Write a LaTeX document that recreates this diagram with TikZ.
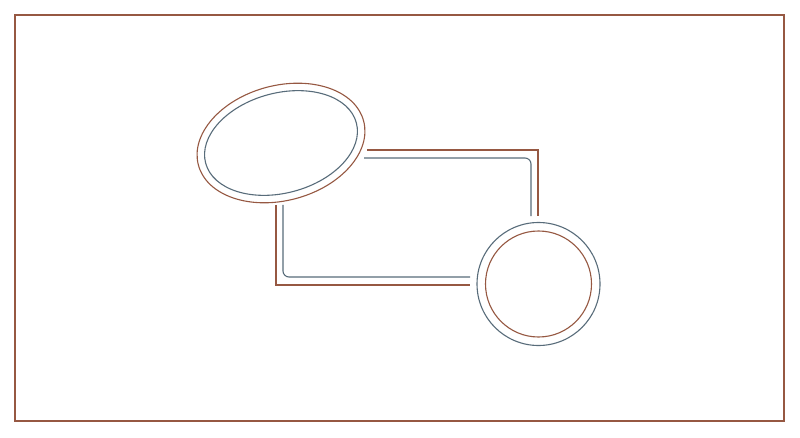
\documentclass[tikz,border=0pt]{standalone}
\usetikzlibrary{shapes.geometric}
\definecolor{brn}{RGB}{150,88,66}
\definecolor{blu}{RGB}{88,108,122}
\tikzset{
  ln/.style={line width=1.1pt},
  brnline/.style={ln, draw=brn},
  bluline/.style={ln, draw=blu},
  oval/.style={ellipse, rotate=15, inner sep=0pt, outer sep=0pt},
  ring/.style={circle, inner sep=0pt, outer sep=0pt}
}
\begin{document}
\begin{tikzpicture}[x=1pt,y=1pt]
\useasboundingbox (0,0) rectangle (800,437);
\fill[white] (0,0) rectangle (800,437);
% frame
\draw[brnline] (15,422) rectangle (784,16);
% ellipse
\node[oval, brnline, minimum width=171, minimum height=115] (eo) at (281,294) {};
\node[oval, bluline, minimum width=156, minimum height=100] (ei) at (281,294) {};
% circle
\node[ring, bluline, minimum size=123] (co) at (538.5,153) {};
\node[ring, brnline, minimum size=106] (ci) at (538.5,153) {};
% connector coordinates
\coordinate (t1s) at (367,287);
\coordinate (t1c) at (538,287);
\coordinate (t1e) at (538,221);
\coordinate (t2s) at (364,279);
\coordinate (t2c) at (531,279);
\coordinate (t2e) at (531,221);
\coordinate (b1s) at (276,232);
\coordinate (b1c) at (276,152);
\coordinate (b1e) at (470,152);
\coordinate (b2s) at (283,232);
\coordinate (b2c) at (283,160);
\coordinate (b2e) at (470,160);
\draw[brnline] (t1s) -- (t1c) -- (t1e);
\draw[bluline, rounded corners=6pt] (t2s) -- (t2c) -- (t2e);
\draw[brnline] (b1s) -- (b1c) -- (b1e);
\draw[bluline, rounded corners=6pt] (b2s) -- (b2c) -- (b2e);
\end{tikzpicture}
\end{document}
